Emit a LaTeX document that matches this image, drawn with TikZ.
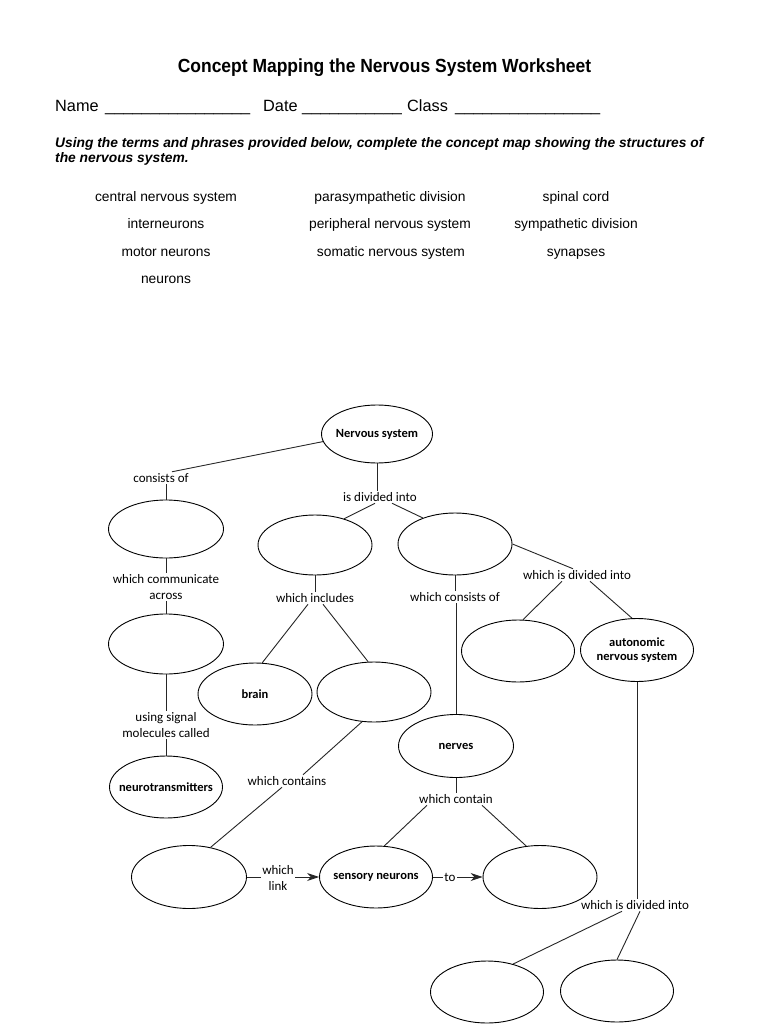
\documentclass[tikz,border=0pt]{standalone}
\usepackage{fontspec}
\setmainfont{Liberation Sans}
\newfontfamily\mapfont{Carlito}
\newfontfamily\titlefont[FakeStretch=0.92]{Liberation Sans}
\usetikzlibrary{shapes.geometric,arrows.meta}
\tikzset{
  oval/.style={draw, ellipse, line width=0.9pt, inner sep=0pt,
    minimum width=114pt, minimum height=61pt},
  ovaltext/.style={font=\mapfont\bfseries\fontsize{12.5}{14}\selectfont, align=center, inner sep=0pt},
  maplabel/.style={font=\mapfont\fontsize{13}{16}\selectfont, align=center, inner sep=1.5pt},
  conn/.style={line width=0.9pt, black!85},
  arr/.style={conn, -{Stealth[length=12pt,width=8pt]}},
  headtext/.style={inner sep=0pt, anchor=base west},
  termtext/.style={inner sep=0pt, anchor=base, font=\fontsize{13.8}{16}\selectfont},
}
\begin{document}
\begin{tikzpicture}[x=1pt,y=-1pt]
\useasboundingbox (0,0) rectangle (768,1024);
\fill[white] (0,0) rectangle (768,1024);

% ---------- header ----------
\node[inner sep=0pt, anchor=base, font=\titlefont\bfseries\fontsize{19}{22}\selectfont] (title) at (384.5,73) {Concept Mapping the Nervous System Worksheet};
\node[headtext, font=\fontsize{16.3}{19}\selectfont] (name) at (55,112) {Name};
\node[headtext, font=\fontsize{16.3}{19}\selectfont] (nameblank) at (105,112) {\_\_\_\_\_\_\_\_\_\_\_\_\_\_\_\_};
\node[headtext, font=\fontsize{16.3}{19}\selectfont] (date) at (263,112) {Date};
\node[headtext, font=\fontsize{16.3}{19}\selectfont] (dateblank) at (302,112) {\_\_\_\_\_\_\_\_\_\_\_};
\node[headtext, font=\fontsize{16.3}{19}\selectfont] (class) at (407,112) {Class};
\node[headtext, font=\fontsize{16.3}{19}\selectfont] (classblank) at (455,112) {\_\_\_\_\_\_\_\_\_\_\_\_\_\_\_\_};
\node[headtext, font=\bfseries\itshape\fontsize{13.8}{16}\selectfont] (instr1) at (55,148) {Using the terms and phrases provided below, complete the concept map showing the structures of};
\node[headtext, font=\bfseries\itshape\fontsize{13.8}{16}\selectfont] (instr2) at (55,163) {the nervous system.};

\node[termtext] (t11) at (166,202) {central nervous system};
\node[termtext] (t21) at (166,229) {interneurons};
\node[termtext] (t31) at (166,256) {motor neurons};
\node[termtext] (t41) at (166,283) {neurons};
\node[termtext] (t12) at (390,202) {parasympathetic division};
\node[termtext] (t22) at (390,229) {peripheral nervous system};
\node[termtext] (t32) at (391,256) {somatic nervous system};
\node[termtext] (t13) at (576,202) {spinal cord};
\node[termtext] (t23) at (576,229) {sympathetic division};
\node[termtext] (t33) at (576,256) {synapses};

% ---------- concept map: ovals ----------
\node[oval, minimum width=111pt, minimum height=58pt, label={[ovaltext]center:Nervous system}] (N) at (377,434) {};
\node[oval, minimum width=115pt, minimum height=58pt] (A) at (166,529) {};
\node[oval, minimum width=115pt, minimum height=60pt] (B) at (166,644) {};
\node[oval, minimum width=113pt, minimum height=62pt, label={[ovaltext]center:neurotransmitters}] (Neu) at (166,787) {};
\node[oval, minimum height=60pt] (C) at (315,545) {};
\node[oval, minimum height=62pt] (D) at (455,544) {};
\node[oval, minimum height=62pt, label={[ovaltext]center:brain}] (Br) at (255,694) {};
\node[oval, minimum height=60pt] (Sp) at (374,692) {};
\node[oval, minimum width=115pt, minimum height=63pt, label={[ovaltext]center:nerves}] (Ner) at (456,746) {};
\node[oval, minimum width=113pt, minimum height=62pt] (Som) at (518,651) {};
\node[oval, minimum width=113pt, minimum height=63pt, label={[ovaltext]center:autonomic\\nervous system}] (Aut) at (637,650) {};
\node[oval, minimum width=115pt, minimum height=63pt] (Int) at (189,877) {};
\node[oval, minimum width=113pt, minimum height=62pt, label={[ovaltext]center:sensory neurons}] (Sen) at (376,877) {};
\node[oval, minimum height=63pt] (Mot) at (540,877) {};
\node[oval, minimum width=113pt, minimum height=62pt] (Sym) at (487,992) {};
\node[oval, minimum width=113pt, minimum height=62pt] (Par) at (617,991) {};

% ---------- linking phrases ----------
\node[maplabel] (cons) at (161,478) {consists of};
\node[maplabel] (comm) at (166,587) {which communicate\\across};
\node[maplabel] (sig) at (166,725) {using signal\\molecules called};
\node[maplabel] (div1) at (380,497) {is divided into};
\node[maplabel] (incl) at (315,598) {which includes};
\node[maplabel] (cons2) at (455,597) {which consists of};
\node[maplabel] (div2) at (577,575) {which is divided into};
\node[maplabel] (cont) at (287,781) {which contains};
\node[maplabel] (contn) at (456,799) {which contain};
\node[maplabel] (link) at (278,878) {which\\link};
\node[maplabel] (to) at (450,877) {to};
\node[maplabel] (div3) at (635,905) {which is divided into};

% ---------- connectors ----------
\draw[conn] (N.188) -- ([xshift=11pt]cons.north);
\draw[conn] (A.north) -- (A.north |- cons.south);
\draw[conn] (A.south) -- (A.south |- comm.north);
\draw[conn] (B.north) -- (B.north |- comm.south);
\draw[conn] (B.south) -- (B.south |- sig.north);
\draw[conn] (Neu.north) -- (Neu.north |- sig.south);

\draw[conn] (N.south) -- (N.south |- div1.north);
\draw[conn] ([xshift=-5pt]div1.south) -- (C.42);
\draw[conn] ([xshift=12pt]div1.south) -- (D.141);
\draw[conn] (C.south) -- (C.south |- incl.north);
\draw[conn] ([xshift=-7pt]incl.south) -- (Br.77);
\draw[conn] ([xshift=8pt]incl.south) -- (Sp.101);

\draw[conn] (D.south) -- (D.south |- cons2.north);
\draw[conn] (Ner.north) -- (Ner.north |- cons2.south);
\draw[conn] (D.east) -- ([xshift=-4pt]div2.north);
\draw[conn] ([xshift=-15pt]div2.south) -- (Som.81);
\draw[conn] ([xshift=13pt]div2.south) -- (Aut.99);
\draw[conn] (Aut.south) -- (Aut.south |- div3.north);
\draw[conn] ([xshift=-13pt]div3.south) -- (Sym.47);
\draw[conn] ([xshift=5pt]div3.south) -- (Par.north);

\draw[conn] (Sp.248) -- ([xshift=16pt]cont.north);
\draw[conn] ([xshift=-5pt]cont.south) -- (Int.54);
\draw[conn] (Ner.south) -- (Ner.south |- contn.north);
\draw[conn] ([xshift=-29pt]contn.south) -- (Sen.75);
\draw[conn] ([xshift=26pt]contn.south) -- (Mot.114);

\draw[conn] (Int.east) -- (Int.east -| link.west);
\draw[arr] (Sen.west -| link.east) -- (Sen.west);
\draw[conn] (Sen.east) -- (Sen.east -| to.west);
\draw[arr] (Mot.west -| to.east) -- (Mot.west);
\end{tikzpicture}
\end{document}
